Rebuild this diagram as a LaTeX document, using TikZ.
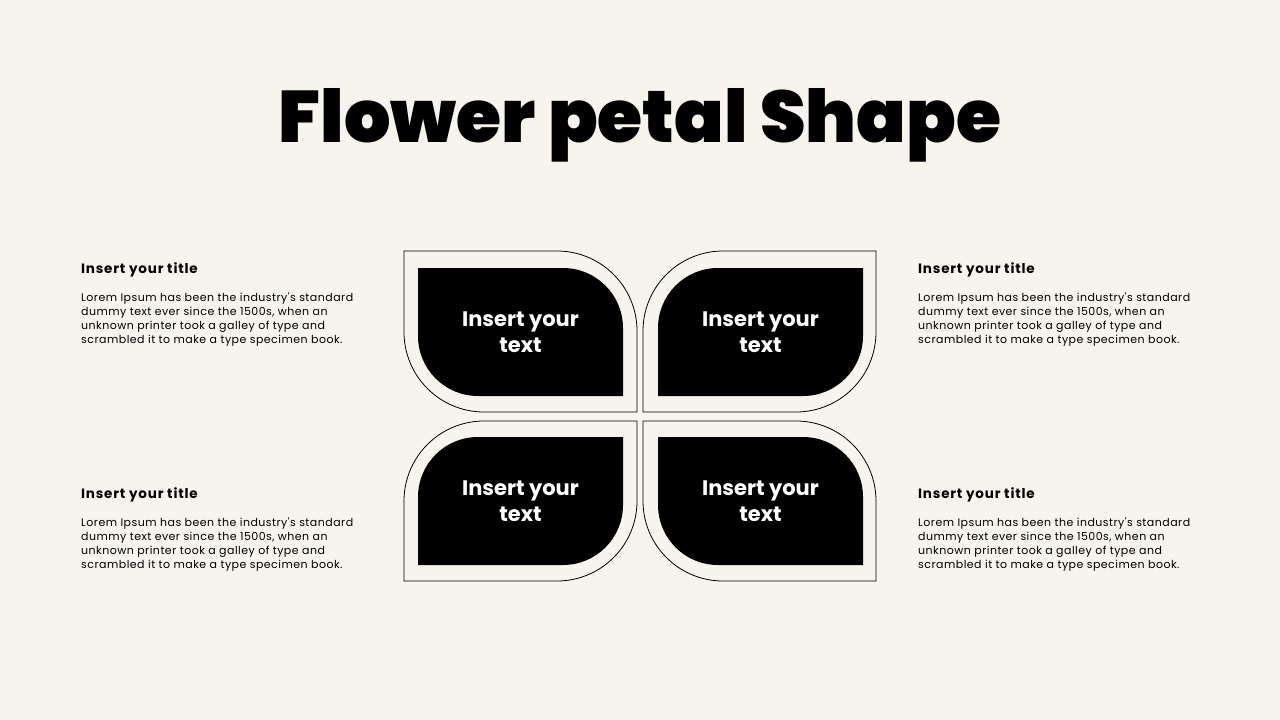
\documentclass[tikz,border=0pt]{standalone}
\usepackage{fontspec}
\setmainfont{Poppins}
\newfontfamily\titlefont{Poppins Black}
\newfontfamily\boldfont{Poppins Bold}
\newfontfamily\headfont{Poppins Bold}[LetterSpace=6]
\newfontfamily\bodyfont{Poppins}[LetterSpace=4.3]
\usetikzlibrary{positioning}
\definecolor{bgcream}{HTML}{F7F4EE}
\tikzset{
  outerleaf/.style= {draw=black, line width=0.8pt, fill=bgcream},
  innerleaf/.style= {fill=black},
  leaftext/.style= {text=white, align=center, font=\boldfont\fontsize{21}{26}\selectfont},
  sidetitle/.style= {anchor=base west, inner sep=0, font=\headfont\fontsize{13.5}{15}\selectfont},
  sidebody/.style= {anchor=north west, inner sep=0, align=left, font=\bodyfont\fontsize{11}{14}\selectfont},
}
% leaf with round top-right and bottom-left corners: style, left, top, right, bottom, radius
\newcommand{\leafA}[6]{%
  \path[#1] (#2,#3) -- ({#4-#6},#3) arc[start angle=90, end angle=0, radius=#6]
    -- (#4,#5) -- ({#2+#6},#5) arc[start angle=270, end angle=180, radius=#6] -- cycle;}
% leaf with round top-left and bottom-right corners
\newcommand{\leafB}[6]{%
  \path[#1] (#2,#5) -- (#2,{#3-#6}) arc[start angle=180, end angle=90, radius=#6]
    -- (#4,#3) -- (#4,{#5+#6}) arc[start angle=0, end angle=-90, radius=#6] -- cycle;}

\begin{document}
\begin{tikzpicture}[x=1pt, y=1pt]
  \path[fill=bgcream] (0,0) rectangle (1280,-720);

  \node [anchor=base, inner sep=0, font=\titlefont\fontsize{73}{80}\selectfont] (title) at (640,-142) {Flower petal Shape};

  % petals
  \leafA{outerleaf}{404}{-251}{637}{-412}{80}
  \leafB{outerleaf}{643}{-251}{876}{-412}{80}
  \leafB{outerleaf}{404}{-421}{637}{-581}{80}
  \leafA{outerleaf}{643}{-421}{876}{-581}{80}
  \leafA{innerleaf}{418}{-268}{623}{-396}{60}
  \leafB{innerleaf}{658}{-268}{863}{-396}{60}
  \leafB{innerleaf}{418}{-437}{623}{-565}{60}
  \leafA{innerleaf}{658}{-437}{863}{-565}{60}

  \node [leaftext] (t1) at (520.5,-332) {Insert your\\text};
  \node [leaftext] (t2) at (760.5,-332) {Insert your\\text};
  \node [leaftext] (t3) at (520.5,-501) {Insert your\\text};
  \node [leaftext] (t4) at (760.5,-501) {Insert your\\text};

  % side notes
  \node [sidetitle] (h1) at (81,-273) {Insert your title};
  \node [sidetitle] (h2) at (918,-273) {Insert your title};
  \node [sidetitle] (h3) at (81,-498) {Insert your title};
  \node [sidetitle] (h4) at (918,-498) {Insert your title};
  \node [sidebody] (b1) at (81,-293) {Lorem Ipsum has been the industry's standard\\dummy text ever since the 1500s, when an\\unknown printer took a galley of type and\\scrambled it to make a type specimen book.};
  \node [sidebody] (b2) at (918,-293) {Lorem Ipsum has been the industry's standard\\dummy text ever since the 1500s, when an\\unknown printer took a galley of type and\\scrambled it to make a type specimen book.};
  \node [sidebody] (b3) at (81,-518) {Lorem Ipsum has been the industry's standard\\dummy text ever since the 1500s, when an\\unknown printer took a galley of type and\\scrambled it to make a type specimen book.};
  \node [sidebody] (b4) at (918,-518) {Lorem Ipsum has been the industry's standard\\dummy text ever since the 1500s, when an\\unknown printer took a galley of type and\\scrambled it to make a type specimen book.};
\end{tikzpicture}
\end{document}
